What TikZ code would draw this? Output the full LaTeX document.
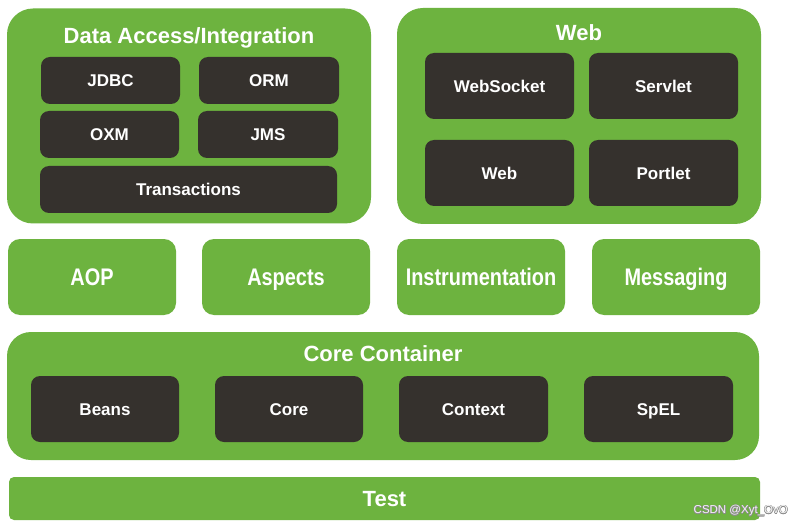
\documentclass[tikz,border=0pt]{standalone}
\usepackage{fontspec}
\usepackage{graphicx}
\setmainfont{Liberation Sans}
\definecolor{sgreen}{HTML}{6DB33F}
\definecolor{sdark}{HTML}{35312D}
\tikzset{
  container/.style={fill=sgreen, draw=none, rounded corners=26pt, inner sep=0pt},
  inbox/.style={fill=sdark, draw=none, rounded corners=9pt, inner sep=0pt, text=white,
    font=\fontsize{17}{20}\selectfont\bfseries, text height=12.2pt, text depth=0pt},
  midbox/.style={fill=sgreen, draw=none, rounded corners=12pt, inner sep=0pt, text=white,
    minimum width=168pt, minimum height=76pt,
    font=\fontsize{24}{28}\selectfont\bfseries, text height=17.2pt, text depth=0pt},
  title/.style={text=white, inner sep=0pt, font=\fontsize{22}{26}\selectfont\bfseries,
    text height=15.8pt, text depth=0pt},
  testbox/.style={fill=sgreen, draw=none, rounded corners=5pt, inner sep=0pt},
  wmark/.style={anchor=east, inner sep=0pt, font=\fontsize{11.5}{13}\selectfont}
}
\newcommand{\wmtext}{CSDN @Xyt\_OvO}
\begin{document}
\begin{tikzpicture}[x=1pt,y=-1pt]
\fill[white] (0,0) rectangle (802,529);
\useasboundingbox (0,0) rectangle (802,529);

% Data Access / Integration
\node[container, minimum width=364pt, minimum height=215pt] (da) at (189,116) {};
\node[title] (datitle) at (189,36) {Data Access/Integration};
\node[inbox, minimum width=139pt, minimum height=47pt] (jdbc) at (110.5,80.5) {JDBC};
\node[inbox, minimum width=140pt, minimum height=47pt] (orm) at (269,80.5) {ORM};
\node[inbox, minimum width=139pt, minimum height=47pt] (oxm) at (109.5,134.5) {OXM};
\node[inbox, minimum width=140pt, minimum height=47pt] (jms) at (268,134.5) {JMS};
\node[inbox, minimum width=297pt, minimum height=47pt] (tx) at (188.5,189.5) {Transactions};

% Web
\node[container, minimum width=364pt, minimum height=216pt] (web) at (579,116) {};
\node[title] (webtitle) at (579,33) {Web};
\node[inbox, minimum width=149pt, minimum height=66pt] (ws) at (499.5,86) {WebSocket};
\node[inbox, minimum width=149pt, minimum height=66pt] (servlet) at (663.5,86) {Servlet};
\node[inbox, minimum width=149pt, minimum height=66pt] (webm) at (499.5,173) {Web};
\node[inbox, minimum width=149pt, minimum height=66pt] (portlet) at (663.5,173) {Portlet};

% Middle row
\node[midbox] (aop) at (92,277) {\scalebox{0.83}[1]{AOP}};
\node[midbox] (aspects) at (286,277) {\scalebox{0.83}[1]{Aspects}};
\node[midbox] (instr) at (481,277) {\scalebox{0.83}[1]{Instrumentation}};
\node[midbox] (msg) at (676,277) {\scalebox{0.83}[1]{Messaging}};

% Core Container
\node[container, rounded corners=24pt, minimum width=752pt, minimum height=128pt] (core) at (383,396) {};
\node[title] (coretitle) at (383,354) {Core Container};
\node[inbox, minimum width=148pt, minimum height=66pt] (beans) at (105,409) {Beans};
\node[inbox, minimum width=148pt, minimum height=66pt] (corem) at (289,409) {Core};
\node[inbox, minimum width=149pt, minimum height=66pt] (context) at (473.5,409) {Context};
\node[inbox, minimum width=149pt, minimum height=66pt] (spel) at (658.5,409) {SpEL};

% Test
\node[testbox, minimum width=751pt, minimum height=43pt] (test) at (384.5,498.5) {};
\node[title] (testtitle) at (384.5,499) {Test};

% Watermark (light text with grey outline)
\foreach \dx/\dy in {0.5/0,-0.5/0,0/0.5,0/-0.5,0.35/0.35,-0.35/0.35,0.35/-0.35,-0.35/-0.35}
  \node[wmark, text=gray!90] at (788+\dx,511+\dy) {\wmtext};
\node[wmark, text=white!92!gray] (wm) at (788,511) {\wmtext};
\end{tikzpicture}
\end{document}
